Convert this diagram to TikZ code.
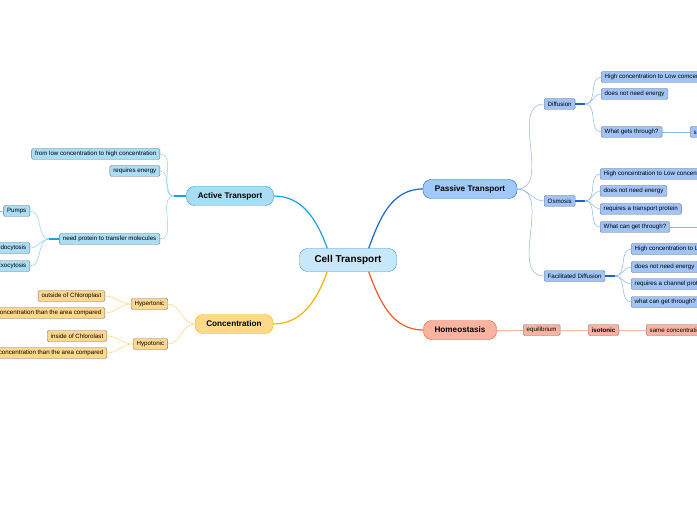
\documentclass[tikz,border=0pt]{standalone}
\usepackage{fontspec}
\setmainfont{Liberation Sans}
\begin{document}
\begin{tikzpicture}[x=1bp,y=-1bp,
 box/.style={draw=black!55,rounded corners=1.5bp,font=\fontsize{6.2}{7}\selectfont,inner xsep=3.5bp,minimum height=11bp,inner ysep=1.5bp},
 main/.style={draw,rounded corners=8bp,font=\fontsize{8.2}{9}\selectfont\bfseries,minimum height=19bp,inner xsep=8bp},
 ps/.style={box,fill={rgb,255:red,160;green,196;blue,248}},
 as/.style={box,fill={rgb,255:red,170;green,222;blue,246}},
 cs/.style={box,fill={rgb,255:red,255;green,216;blue,140}},
 hs/.style={box,fill={rgb,255:red,248;green,180;blue,160}},
 thinone/.style={line width=0.5bp},
 thickone/.style={line width=1.2bp}]
\useasboundingbox (0,0) rectangle (697,520);
\clip (0,0) rectangle (697,520);
\definecolor{pc}{RGB}{26,102,208}\definecolor{pl}{RGB}{138,180,240}
\definecolor{ac}{RGB}{26,160,224}\definecolor{al}{RGB}{130,210,240}
\definecolor{cc}{RGB}{245,180,0}\definecolor{cl}{RGB}{250,210,120}
\definecolor{hc}{RGB}{240,90,40}\definecolor{hl}{RGB}{248,180,160}

\node[main,fill={rgb,255:red,200;green,232;blue,250},draw={rgb,255:red,60;green,150;blue,220},minimum width=97bp,minimum height=23bp,font=\fontsize{10}{11}\selectfont\bfseries] (ct) at (348,260) {Cell Transport};
\node[main,fill={rgb,255:red,160;green,200;blue,248},draw=pc,minimum width=94bp] (pt) at (470,189) {Passive Transport};
\node[main,fill={rgb,255:red,168;green,221;blue,245},draw=ac,minimum width=87bp] (at) at (230,196) {Active Transport};
\node[main,fill={rgb,255:red,255;green,217;blue,138},draw=cc,minimum width=78bp] (co) at (234,324) {Concentration};
\node[main,fill={rgb,255:red,248;green,180;blue,160},draw=hc,minimum width=73bp] (ho) at (460,330) {Homeostasis};

\draw[thickone,pc] (ct.north east) ++(-28,0) to[out=70,in=180] (pt.west);
\draw[thickone,ac] (ct.north west) ++(28,0) to[out=110,in=0] (at.east);
\draw[thickone,cc] (ct.south west) ++(28,0) to[out=250,in=0] (co.east);
\draw[thickone,hc] (ct.south east) ++(-28,0) to[out=290,in=180] (ho.west);

% passive
\node[ps,anchor=west] (di) at (544,104) {Diffusion};
\node[ps,anchor=west] (os) at (544,201) {Osmosis};
\node[ps,anchor=west] (fd) at (544,276) {Facilitated Diffusion};
\foreach \n in {di,os,fd}{\draw[thinone,pl] (pt.east) to[out=0,in=180] (\n.west);}
\node[ps,anchor=west] (d1) at (601,77) {High concentration to Low comcentration};
\node[ps,anchor=west] (d2) at (601,94) {does not need energy};
\node[ps,anchor=west] (d3) at (601,132) {What gets through?};
\node[ps,anchor=west] (d4) at (690,132) {small molecules};
\foreach \n in {d1,d2,d3}{\draw[thinone,pl] (di.east)++(10,0) to[out=0,in=180] (\n.west);}
\draw[thickone,pc] (di.east) -- ++(10,0);
\draw[thinone,pl] (d3) -- (d4);
\node[ps,anchor=west] (o1) at (600,174) {High concentration to Low concentration};
\node[ps,anchor=west] (o2) at (600,191) {does not need energy};
\node[ps,anchor=west] (o3) at (600,209) {requires a transport protein};
\node[ps,anchor=west] (o4) at (600,227) {What can get through?};
\coordinate (o5) at (700,227);
\foreach \n in {o1,o2,o3,o4}{\draw[thinone,pl] (os.east)++(10,0) to[out=0,in=180] (\n.west);}
\draw[thickone,pc] (os.east) -- ++(10,0);
\draw[thinone,pl] (o4) -- (o5);
\node[ps,anchor=west] (f1) at (631,249) {High concentration to Low concentration};
\node[ps,anchor=west] (f2) at (631,267) {does not need energy};
\node[ps,anchor=west] (f3) at (631,284) {requires a channel protein};
\node[ps,anchor=west] (f4) at (631,302) {what can get through?};
\foreach \n in {f1,f2,f3,f4}{\draw[thinone,pl] (fd.east)++(10,0) to[out=0,in=180] (\n.west);}
\draw[thickone,pc] (fd.east) -- ++(10,0);

% homeostasis
\node[hs,anchor=west] (eq) at (523,330) {equilibrium};
\node[hs,anchor=west,font=\fontsize{6.2}{7}\selectfont\bfseries] (is) at (588,330) {isotonic};
\node[hs,anchor=west] (sc) at (646,330) {same concentration};
\draw[thinone,hl] (ho) -- (eq); \draw[thinone,hl] (eq) -- (is); \draw[thinone,hl] (is) -- (sc);

% active
\node[as,anchor=east] (a1) at (160,154) {from low concentration to high concentration};
\node[as,anchor=east] (a2) at (160,171) {requires energy};
\node[as,anchor=east] (a3) at (160,239) {need protein to transfer molecules};
\foreach \n in {a1,a2,a3}{\draw[thinone,al] (at.west)++(-12,0) to[out=180,in=0] (\n.east);}
\draw[thickone,ac] (at.west) -- ++(-12,0);
\node[as,anchor=east] (p1) at (30,211) {Pumps};
\node[as,anchor=east] (p2) at (30,248) {Endocytosis};
\node[as,anchor=east] (p3) at (30,266) {Exocytosis};
\coordinate (p0) at (-5,211);
\foreach \n in {p1,p2,p3}{\draw[thinone,al] (a3.west)++(-10,0) to[out=180,in=0] (\n.east);}
\draw[thickone,ac] (a3.west) -- ++(-10,0);
\draw[thinone,al] (p1) -- (p0);

% concentration
\node[cs,anchor=west] (hy) at (131,304) {Hypertonic};
\node[cs,anchor=west] (hp) at (133,344) {Hypotonic};
\draw[thinone,cl] (co.west) to[out=180,in=0] (hy.east);
\draw[thinone,cl] (co.west) to[out=180,in=0] (hp.east);
\node[cs,anchor=east] (h1) at (105,296) {outside of Chloroplast};
\node[cs,anchor=east] (h2) at (105,313) {Higher concentration than the area compared};
\node[cs,anchor=east] (l1) at (107,336) {inside of Chlorolast};
\node[cs,anchor=east] (l2) at (107,353) {Lower concentration than the area compared};
\foreach \n in {h1,h2}{\draw[thinone,cl] (hy.west) to[out=180,in=0] (\n.east);}
\foreach \n in {l1,l2}{\draw[thinone,cl] (hp.west) to[out=180,in=0] (\n.east);}
\end{tikzpicture}
\end{document}
